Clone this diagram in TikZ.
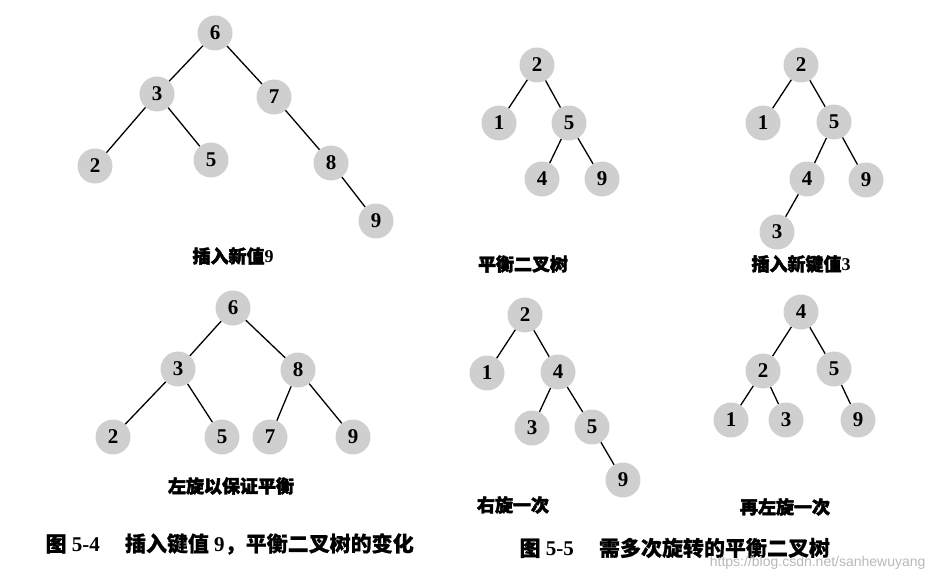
\documentclass[tikz,border=0pt]{standalone}
\usepackage{fontspec}
\setmainfont{Liberation Serif}
\newfontfamily\cjk{Noto Sans CJK SC}[FakeBold=2.5]
\newfontfamily\cjkcap{Noto Sans CJK SC}[FakeBold=0.7]
\newfontfamily\wmfont{Liberation Sans}
\usetikzlibrary{positioning}

\begin{document}
\begin{tikzpicture}[x=1pt, y=-1pt,
  key/.style={circle, fill=black!19, minimum size=35pt, inner sep=0pt,
              font=\fontsize{21}{21}\selectfont\bfseries},
  edge/.style={line width=1.3pt},
  treelabel/.style={font=\fontsize{18}{18}\selectfont\bfseries},
  figcap/.style={anchor=west, font=\fontsize{21}{21}\selectfont\bfseries},
]
\useasboundingbox (0,0) rectangle (935,578);

% insert 9
\node[key] (a6) at (215,33) {6};
\node[key] (a3) at (157,94) {3};
\node[key] (a7) at (274,97) {7};
\node[key] (a2) at (95,166) {2};
\node[key] (a5) at (211,160) {5};
\node[key] (a8) at (331,163) {8};
\node[key] (a9) at (376,221) {9};
\draw[edge] (a6) -- (a3) (a6) -- (a7) (a3) -- (a2) (a3) -- (a5)
            (a7) -- (a8) (a8) -- (a9);
\node[treelabel] (la) at (233,256) {{\cjk 插入新值}9};

% rotated left
\node[key] (b6) at (233,308) {6};
\node[key] (b3) at (178,369) {3};
\node[key] (b8) at (298,370) {8};
\node[key] (b2) at (113,437) {2};
\node[key] (b5) at (222,437) {5};
\node[key] (b7) at (270,437) {7};
\node[key] (b9) at (353,437) {9};
\draw[edge] (b6) -- (b3) (b6) -- (b8) (b3) -- (b2) (b3) -- (b5)
            (b8) -- (b7) (b8) -- (b9);
\node[treelabel] (lb) at (231,486) {\cjk 左旋以保证平衡};

% balanced tree
\node[key] (c2) at (537,65) {2};
\node[key] (c1) at (499,123) {1};
\node[key] (c5) at (569,123) {5};
\node[key] (c4) at (542,179) {4};
\node[key] (c9) at (602,179) {9};
\draw[edge] (c2) -- (c1) (c2) -- (c5) (c5) -- (c4) (c5) -- (c9);
\node[treelabel] (lc) at (523,264) {\cjk 平衡二叉树};

% insert 3
\node[key] (d2) at (801,65) {2};
\node[key] (d1) at (763,123) {1};
\node[key] (d5) at (834,122) {5};
\node[key] (d4) at (807,179) {4};
\node[key] (d9) at (866,180) {9};
\node[key] (d3) at (777,232) {3};
\draw[edge] (d2) -- (d1) (d2) -- (d5) (d5) -- (d4) (d5) -- (d9)
            (d4) -- (d3);
\node[treelabel] (ld) at (801,264) {{\cjk 插入新键值}3};

% rotated right once
\node[key] (e2) at (525,315) {2};
\node[key] (e1) at (487,373) {1};
\node[key] (e4) at (558,372) {4};
\node[key] (e3) at (532,428) {3};
\node[key] (e5) at (592,427) {5};
\node[key] (e9) at (623,480) {9};
\draw[edge] (e2) -- (e1) (e2) -- (e4) (e4) -- (e3) (e4) -- (e5)
            (e5) -- (e9);
\node[treelabel] (le) at (513,505) {\cjk 右旋一次};

% rotated left again
\node[key] (f4) at (801,312) {4};
\node[key] (f2) at (763,371) {2};
\node[key] (f5) at (834,369) {5};
\node[key] (f1) at (731,420) {1};
\node[key] (f3) at (786,420) {3};
\node[key] (f9) at (858,420) {9};
\draw[edge] (f4) -- (f2) (f4) -- (f5) (f2) -- (f1) (f2) -- (f3)
            (f5) -- (f9);
\node[treelabel] (lf) at (785,507) {\cjk 再左旋一次};

% captions
\node[figcap] (cap54) at (42,544)
  {{\cjkcap 图} 5-4\hspace{1.2em}{\cjkcap 插入键值} 9{\cjkcap ，平衡二叉树的变化}};
\node[figcap] (cap55) at (516,548)
  {{\cjkcap 图} 5-5\hspace{1.2em}{\cjkcap 需多次旋转的平衡二叉树}};
\node[anchor=east, text=black!28, font=\wmfont\fontsize{14}{14}\selectfont]
  (wm) at (929,563) {https://blog.csdn.net/sanhewuyang};
\end{tikzpicture}
\end{document}
